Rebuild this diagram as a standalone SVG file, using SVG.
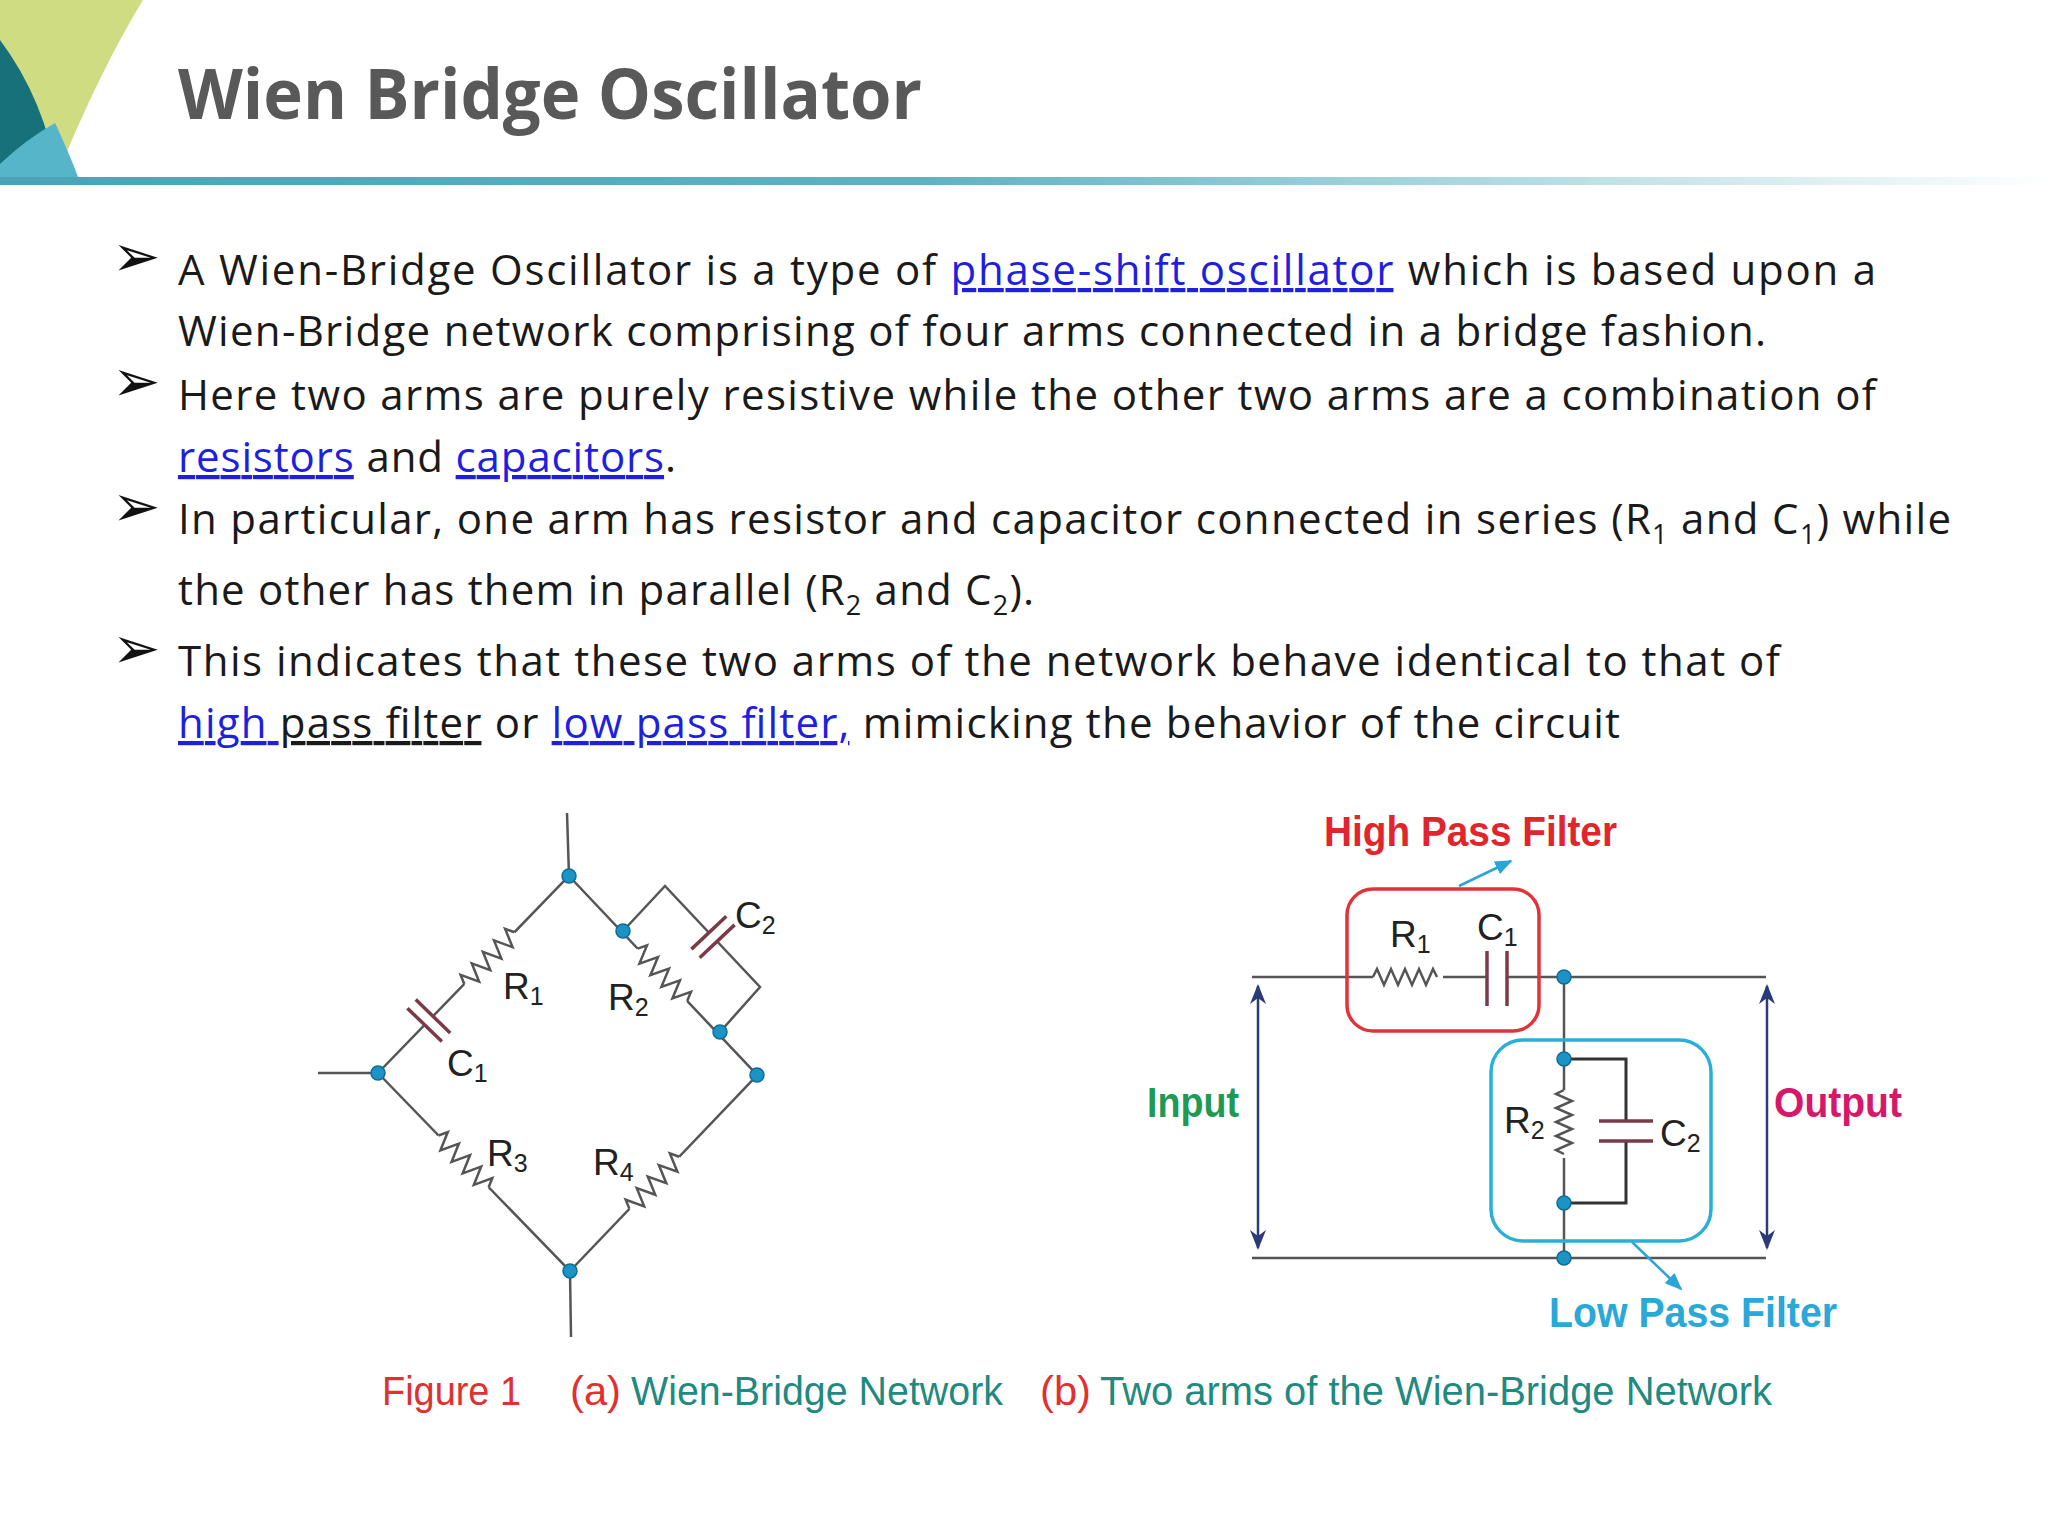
<svg xmlns="http://www.w3.org/2000/svg" xmlns:xlink="http://www.w3.org/1999/xlink" width="2048" height="1536" viewBox="0 0 2048 1536">
<style>
.body{font-family:"Open Sans","DejaVu Sans",sans-serif;font-size:42px;fill:#1a1a1a}
.lnk{fill:#1f1fe0;text-decoration:underline}
.ul{text-decoration:underline}
.sub{font-size:27px}
.bul{font-family:"DejaVu Sans",sans-serif;font-size:58px;fill:#111}
.w{fill:none;stroke:#555;stroke-width:2.5}
.wd{fill:none;stroke:#333;stroke-width:3}
.gap{stroke:#fff;stroke-width:8}
.plate{stroke:#7a3a48;stroke-width:3.5}
.dot{fill:#1b93c4;stroke:#0f6d94;stroke-width:1.5}
.lab{font-family:"Liberation Sans",Arial,sans-serif;font-size:37px;fill:#222}
.lsub{font-size:25px}
.cap{font-family:"Liberation Sans",Arial,sans-serif;font-size:40px}
.bold{font-family:"Liberation Sans",Arial,sans-serif;font-weight:bold;font-size:42px}
</style>
<defs>
<linearGradient id="bar" x1="0" x2="1" y1="0" y2="0">
<stop offset="0" stop-color="#4aa3b6"/><stop offset="0.45" stop-color="#5eb2c2"/><stop offset="1" stop-color="#ffffff"/>
</linearGradient>
<g id="res"><line x1="0" y1="0" x2="72" y2="0" class="gap"/><path d="M0,0 l4,-9 l8,18 l8,-18 l8,18 l8,-18 l8,18 l8,-18 l8,18 l8,-18 l4,9" class="w"/></g>
<g id="capL"><line x1="-6" y1="0" x2="6" y2="0" class="gap"/><line x1="-6" y1="-24" x2="-6" y2="24" class="plate"/><line x1="6" y1="-24" x2="6" y2="24" class="plate"/></g>
<marker id="ah" viewBox="0 0 10 10" refX="9" refY="5" markerWidth="8" markerHeight="8" orient="auto-start-reverse"><path d="M0,1 L10,5 L0,9 L3,5 Z" fill="#2b3a78"/></marker>
<marker id="ab" viewBox="0 0 10 10" refX="9" refY="5" markerWidth="7" markerHeight="7" orient="auto"><path d="M0,1 L10,5 L0,9 Z" fill="#2aa5d8"/></marker>
</defs>
<rect width="2048" height="1536" fill="#fff"/>
<g id="header">
<path d="M0,0 H143 Q100,70 55,180 L0,180 Z" fill="#cfdc82"/>
<path d="M0,40 Q45,100 58,180 L0,180 Z" fill="#17717b"/>
<path d="M55,123 Q25,140 0,164 L0,182 L80,182 Q68,150 55,123 Z" fill="#57b5c9"/>
<rect x="0" y="177" width="2048" height="8" fill="url(#bar)"/>
<text x="178" y="119" font-family="Open Sans, DejaVu Sans, sans-serif" font-weight="bold" font-size="70" fill="#595959" textLength="744" lengthAdjust="spacingAndGlyphs">Wien Bridge Oscillator</text>
</g>
<g id="bullets">
<text class="bul" x="112" y="276">➢</text>
<text class="bul" x="112" y="401">➢</text>
<text class="bul" x="112" y="526">➢</text>
<text class="bul" x="112" y="668">➢</text>
<text class="body" x="178" y="285" textLength="1698">A Wien-Bridge Oscillator is a type of <tspan class="lnk">phase-shift oscillator</tspan> which is based upon a</text>
<text class="body" x="178" y="346" textLength="1588">Wien-Bridge network comprising of four arms connected in a bridge fashion.</text>
<text class="body" x="178" y="410" textLength="1698">Here two arms are purely resistive while the other two arms are a combination of</text>
<text class="body" x="178" y="472" textLength="498"><tspan class="lnk">resistors</tspan> and <tspan class="lnk">capacitors</tspan>.</text>
<text class="body" x="178" y="534" textLength="1773">In particular, one arm has resistor and capacitor connected in series (R<tspan class="sub" dy="10">1</tspan><tspan dy="-10"> and C</tspan><tspan class="sub" dy="10">1</tspan><tspan dy="-10">) while</tspan></text>
<text class="body" x="178" y="605" textLength="856">the other has them in parallel (R<tspan class="sub" dy="10">2</tspan><tspan dy="-10"> and C</tspan><tspan class="sub" dy="10">2</tspan><tspan dy="-10">).</tspan></text>
<text class="body" x="178" y="676" textLength="1602">This indicates that these two arms of the network behave identical to that of</text>
<text class="body" x="178" y="738" textLength="1442"><tspan class="lnk">high </tspan><tspan class="ul">pass filter</tspan> or <tspan class="lnk">low pass filter,</tspan> mimicking the behavior of the circuit</text>
</g>
<g id="figA">
<g id="wiresA">
<line x1="567" y1="813" x2="569" y2="876" class="w"/>
<line x1="571" y1="1337" x2="570" y2="1271" class="w"/>
<line x1="318" y1="1073" x2="378" y2="1073" class="w"/>
<g transform="translate(378,1073) rotate(-45.9)"><line x1="0" y1="0" x2="274" y2="0" class="w"/><use href="#capL" x="73" y="0"/><use href="#res" x="124" y="0"/></g>
<g transform="translate(378,1073) rotate(45.9)"><line x1="0" y1="0" x2="276" y2="0" class="w"/><use href="#res" x="87" y="0"/></g>
<g transform="translate(570,1271) rotate(-46.3)"><line x1="0" y1="0" x2="271" y2="0" class="w"/><use href="#res" x="86" y="0"/></g>
<g transform="translate(569,876) rotate(46.6)"><line x1="0" y1="0" x2="274" y2="0" class="w"/><use href="#res" x="100" y="0"/></g>
<polyline points="623,931 665,886 760,987 720,1032" class="w"/>
<g transform="translate(713,937) rotate(46.6)"><use href="#capL"/></g>
</g>
<circle cx="569" cy="876" r="7" class="dot"/>
<circle cx="623" cy="931" r="7" class="dot"/>
<circle cx="720" cy="1032" r="7" class="dot"/>
<circle cx="757" cy="1075" r="7" class="dot"/>
<circle cx="378" cy="1073" r="7" class="dot"/>
<circle cx="570" cy="1271" r="7" class="dot"/>
<text class="lab" x="503" y="999">R<tspan class="lsub" dy="6">1</tspan></text>
<text class="lab" x="447" y="1076">C<tspan class="lsub" dy="6">1</tspan></text>
<text class="lab" x="608" y="1010">R<tspan class="lsub" dy="6">2</tspan></text>
<text class="lab" x="735" y="928">C<tspan class="lsub" dy="6">2</tspan></text>
<text class="lab" x="487" y="1166">R<tspan class="lsub" dy="6">3</tspan></text>
<text class="lab" x="593" y="1175">R<tspan class="lsub" dy="6">4</tspan></text>
</g>
<g id="figB">
<g id="wiresB">
<line x1="1252" y1="977" x2="1766" y2="977" class="w"/>
<line x1="1252" y1="1258" x2="1766" y2="1258" class="w"/>
<line x1="1564" y1="977" x2="1564" y2="1258" class="w"/>
<line x1="1373" y1="977" x2="1443" y2="977" class="gap"/>
<path d="M1373,977 l4,-8 l7,16 l7,-16 l7,16 l7,-16 l7,16 l7,-16 l7,16 l7,-16 l4,8" class="w"/>
<line x1="1487" y1="977" x2="1507" y2="977" class="gap"/>
<line x1="1487" y1="951" x2="1487" y2="1006" class="plate"/>
<line x1="1507" y1="951" x2="1507" y2="1006" class="plate"/>
<polyline points="1564,1059 1626,1059 1626,1121" class="wd"/>
<polyline points="1626,1141 1626,1203 1564,1203" class="wd"/>
<line x1="1599" y1="1121" x2="1653" y2="1121" class="plate"/>
<line x1="1599" y1="1141" x2="1653" y2="1141" class="plate"/>
<line x1="1564" y1="1090" x2="1564" y2="1158" class="gap"/>
<path d="M1564,1090 l-8,4 l16,7 l-16,7 l16,7 l-16,7 l16,7 l-16,7 l16,7 l-16,7 l8,4" class="w"/>
<line x1="1258" y1="986" x2="1258" y2="1248" stroke="#2b3a78" stroke-width="2.5" marker-start="url(#ah)" marker-end="url(#ah)"/>
<line x1="1767" y1="986" x2="1767" y2="1248" stroke="#2b3a78" stroke-width="2.5" marker-start="url(#ah)" marker-end="url(#ah)"/>
<line x1="1459" y1="886" x2="1511" y2="861" stroke="#2aa5d8" stroke-width="2.5" marker-end="url(#ab)"/>
<line x1="1632" y1="1242" x2="1681" y2="1289" stroke="#2aa5d8" stroke-width="2.5" marker-end="url(#ab)"/>
</g>
<rect x="1347" y="889" width="192" height="142" rx="26" fill="none" stroke="#e0333a" stroke-width="3.5"/>
<rect x="1491" y="1040" width="220" height="201" rx="32" fill="none" stroke="#2ab0d6" stroke-width="3.5"/>
<circle cx="1564" cy="977" r="7" class="dot"/>
<circle cx="1564" cy="1059" r="7" class="dot"/>
<circle cx="1564" cy="1203" r="7" class="dot"/>
<circle cx="1564" cy="1258" r="7" class="dot"/>
<text class="lab" x="1390" y="947" font-size="35">R<tspan class="lsub" dy="6">1</tspan></text>
<text class="lab" x="1477" y="940" font-size="35">C<tspan class="lsub" dy="6">1</tspan></text>
<text class="lab" x="1504" y="1133" font-size="35">R<tspan class="lsub" dy="6">2</tspan></text>
<text class="lab" x="1660" y="1146" font-size="35">C<tspan class="lsub" dy="6">2</tspan></text>
<text class="bold" x="1324" y="846" fill="#e0262c" textLength="293" lengthAdjust="spacingAndGlyphs">High Pass Filter</text>
<text class="bold" x="1549" y="1327" fill="#2aa8d8" textLength="288" lengthAdjust="spacingAndGlyphs">Low Pass Filter</text>
<text class="bold" x="1147" y="1117" fill="#1e9a55" textLength="92" lengthAdjust="spacingAndGlyphs">Input</text>
<text class="bold" x="1774" y="1117" fill="#d6186a" textLength="128" lengthAdjust="spacingAndGlyphs">Output</text>
</g>
<g id="caption" class="cap">
<text x="382" y="1405" fill="#e03030" textLength="139" lengthAdjust="spacingAndGlyphs">Figure 1</text>
<text x="570" y="1405" fill="#e03030" textLength="51" lengthAdjust="spacingAndGlyphs">(a)</text>
<text x="631" y="1405" fill="#1f8a80" textLength="372" lengthAdjust="spacingAndGlyphs">Wien-Bridge Network</text>
<text x="1040" y="1405" fill="#e03030" textLength="51" lengthAdjust="spacingAndGlyphs">(b)</text>
<text x="1100" y="1405" fill="#1f8a80" textLength="672" lengthAdjust="spacingAndGlyphs">Two arms of the Wien-Bridge Network</text>
</g>
</svg>
